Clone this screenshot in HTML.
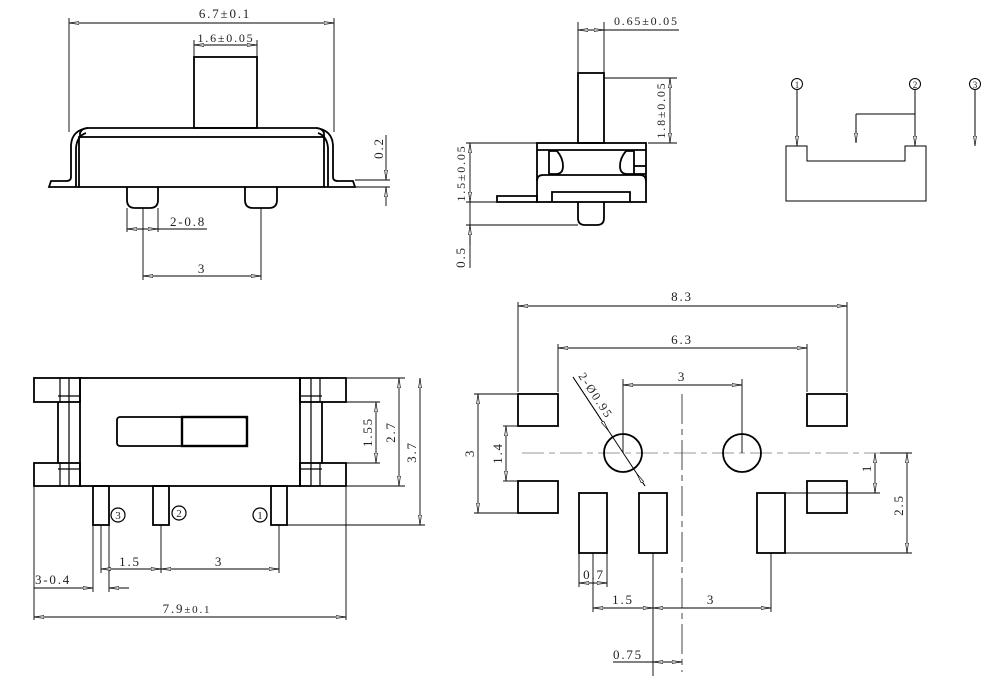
<!DOCTYPE html>
<html><head><meta charset="utf-8"><style>
html,body{margin:0;padding:0;background:#fff;}
svg{display:block;}
text{font-family:"Liberation Serif","Noto Serif CJK SC",serif;font-size:13px;fill:#222;letter-spacing:1.8px;}
</style></head><body>
<svg width="1000" height="679" viewBox="0 0 1000 679" xmlns="http://www.w3.org/2000/svg">
<defs>
<marker id="a" viewBox="0 0 10 4" refX="10" refY="2" markerWidth="10" markerHeight="4" markerUnits="userSpaceOnUse" orient="auto-start-reverse">
<path d="M0,0.6 L10,2 L0,3.4 z" fill="#fff" stroke="#000" stroke-width="0.7"/>
</marker>
</defs>

<!-- ============ TOP LEFT VIEW ============ -->
<g fill="none" stroke="#000" stroke-width="1.8">
<rect x="194" y="57" width="63" height="71"/>
<path d="M80,137 L80,133 Q82,128 88,128 L316,128 Q322,128 324,133 L324,137"/>
<rect x="79" y="137" width="245" height="50"/>
<path d="M88,128 Q72,130 71,145 L71,177 Q71,181 66,181 L51,181 L49,187 L79,187"/>
<path d="M86,133 Q77,136 76,148 L76,187"/>
<path d="M316,128 Q332,130 333,145 L333,177 Q333,181 338,181 L353,181 L355,187 L324,187"/>
<path d="M318,133 Q327,136 328,148 L328,187"/>
<path d="M127,187 L127,200 Q127,208 135,208 L150,208 Q158,208 158,200 L158,187"/>
<path d="M245,187 L245,200 Q245,208 253,208 L269,208 Q277,208 277,200 L277,187"/>
</g>
<g stroke="#000" stroke-width="0.9" fill="none">
<line x1="69" y1="18" x2="69" y2="132"/>
<line x1="334" y1="18" x2="334" y2="132"/>
<line x1="69" y1="23" x2="334" y2="23" marker-start="url(#a)" marker-end="url(#a)"/>
<line x1="194" y1="40" x2="194" y2="57"/>
<line x1="257" y1="40" x2="257" y2="57"/>
<line x1="194" y1="45" x2="257" y2="45" marker-start="url(#a)" marker-end="url(#a)"/>
<line x1="127" y1="208" x2="127" y2="232"/>
<line x1="158" y1="208" x2="158" y2="232"/>
<line x1="127" y1="229" x2="158" y2="229" marker-start="url(#a)" marker-end="url(#a)"/>
<line x1="158" y1="229" x2="207" y2="229"/>
<line x1="143" y1="208" x2="143" y2="280"/>
<line x1="261" y1="208" x2="261" y2="280"/>
<line x1="143" y1="276" x2="261" y2="276" marker-start="url(#a)" marker-end="url(#a)"/>
<line x1="355" y1="180" x2="390" y2="180"/>
<line x1="355" y1="187" x2="390" y2="187"/>
<line x1="386" y1="135" x2="386" y2="180" marker-end="url(#a)"/>
<line x1="386" y1="187" x2="386" y2="206" marker-start="url(#a)"/>
</g>
<text x="225" y="18" text-anchor="middle">6.7±0.1</text>
<text x="226" y="42" text-anchor="middle" style="font-size:12px">1.6±0.05</text>
<text x="188" y="226" text-anchor="middle">2-0.8</text>
<text x="202" y="273" text-anchor="middle">3</text>
<text transform="translate(383,148) rotate(-90)" text-anchor="middle">0.2</text>

<!-- ============ TOP MIDDLE VIEW ============ -->
<g fill="none" stroke="#000" stroke-width="1.8">
<rect x="578" y="73" width="26" height="70"/>
<rect x="537" y="143" width="109" height="59"/>
<line x1="537" y1="150" x2="646" y2="150"/>
<path d="M549,151 L557,151 Q563,158 563,166 Q563,174 556,174 L549,174 Z"/>
<path d="M634,151 L626,151 Q620,158 620,166 Q620,174 627,174 L634,174 Z"/>
<line x1="634" y1="166" x2="646" y2="166"/>
<line x1="634" y1="174" x2="646" y2="174"/>
<path d="M537,181 Q537,175 543,175 L640,175 Q646,175 646,181"/>
<path d="M552,202 L552,192 L630,192 L630,202"/>
<path d="M497,196 L537,196 L537,202 L497,202 Z"/>
<path d="M578,202 L578,218 Q578,225 585,225 L597,225 Q604,225 604,218 L604,202"/>
</g>
<g stroke="#000" stroke-width="0.9" fill="none">
<line x1="578" y1="22" x2="578" y2="73"/>
<line x1="604" y1="22" x2="604" y2="73"/>
<line x1="578" y1="30" x2="604" y2="30" marker-start="url(#a)" marker-end="url(#a)"/>
<line x1="604" y1="30" x2="679" y2="30"/>
<line x1="604" y1="78" x2="677" y2="78"/>
<line x1="648" y1="143" x2="677" y2="143"/>
<line x1="670" y1="78" x2="670" y2="143" marker-start="url(#a)" marker-end="url(#a)"/>
<line x1="466" y1="143" x2="537" y2="143"/>
<line x1="466" y1="202" x2="497" y2="202"/>
<line x1="470" y1="143" x2="470" y2="202" marker-start="url(#a)" marker-end="url(#a)"/>
<line x1="466" y1="225" x2="578" y2="225"/>
<line x1="470" y1="202" x2="470" y2="268"/>
<line x1="470" y1="225" x2="470" y2="245" marker-start="url(#a)"/>
</g>
<text x="614" y="25" style="font-size:12px">0.65±0.05</text>
<text transform="translate(665,110) rotate(-90)" text-anchor="middle" style="font-size:12px">1.8±0.05</text>
<text transform="translate(465,173) rotate(-90)" text-anchor="middle" style="font-size:12px">1.5±0.05</text>
<text transform="translate(465,257) rotate(-90)" text-anchor="middle">0.5</text>

<!-- ============ TOP RIGHT SCHEMATIC ============ -->
<g fill="none" stroke="#000" stroke-width="1">
<path d="M786,146 L807,146 L807,161 L905,161 L905,146 L926,146 L926,201 L786,201 Z"/>
<circle cx="797" cy="84" r="5.5"/>
<circle cx="915" cy="84" r="5.5"/>
<circle cx="975" cy="84" r="5.5"/>
<line x1="797" y1="90" x2="797" y2="146" marker-end="url(#a)"/>
<line x1="915" y1="90" x2="915" y2="146" marker-end="url(#a)"/>
<line x1="975" y1="90" x2="975" y2="146" marker-end="url(#a)"/>
<polyline points="915,114 856,114"/>
<line x1="856" y1="114" x2="856" y2="143" marker-end="url(#a)"/>
</g>
<text x="797" y="88" text-anchor="middle" style="font-size:9px;letter-spacing:0">1</text>
<text x="915" y="88" text-anchor="middle" style="font-size:9px;letter-spacing:0">2</text>
<text x="975" y="88" text-anchor="middle" style="font-size:9px;letter-spacing:0">3</text>

<!-- ============ BOTTOM LEFT VIEW ============ -->
<g fill="none" stroke="#000" stroke-width="1.8">
<rect x="80" y="378" width="220" height="108"/>
<rect x="34" y="378" width="46" height="24"/>
<rect x="34" y="463" width="46" height="23"/>
<rect x="300" y="378" width="46" height="24"/>
<rect x="300" y="463" width="46" height="23"/>
<line x1="58" y1="402" x2="58" y2="463"/>
<line x1="322" y1="402" x2="322" y2="463"/>
<rect x="117" y="417" width="130" height="29" rx="3"/>
<rect x="182" y="417" width="65" height="29" stroke-width="2.4"/>
<rect x="93" y="486" width="16" height="39"/>
<rect x="153" y="486" width="16" height="39"/>
<rect x="271" y="486" width="16" height="39"/>
</g>
<g fill="none" stroke="#000" stroke-width="1.2">
<line x1="60" y1="378" x2="60" y2="402"/><line x1="69" y1="378" x2="69" y2="486"/>
<line x1="60" y1="463" x2="60" y2="486"/>
<line x1="58" y1="396" x2="80" y2="396"/><line x1="58" y1="469" x2="80" y2="469"/>
<line x1="320" y1="378" x2="320" y2="402"/><line x1="311" y1="378" x2="311" y2="486"/>
<line x1="320" y1="463" x2="320" y2="486"/>
<line x1="300" y1="396" x2="322" y2="396"/><line x1="300" y1="469" x2="322" y2="469"/>
<circle cx="118" cy="515" r="7"/>
<circle cx="179" cy="513" r="7"/>
<circle cx="260" cy="515" r="7"/>
</g>
<text x="118" y="519" text-anchor="middle" style="font-size:11px;letter-spacing:0">3</text>
<text x="179" y="517" text-anchor="middle" style="font-size:11px;letter-spacing:0">2</text>
<text x="260" y="519" text-anchor="middle" style="font-size:11px;letter-spacing:0">1</text>
<g stroke="#000" stroke-width="0.9" fill="none">
<line x1="346" y1="378" x2="405" y2="378"/>
<line x1="322" y1="402" x2="380" y2="402"/>
<line x1="322" y1="463" x2="380" y2="463"/>
<line x1="346" y1="486" x2="405" y2="486"/>
<line x1="287" y1="525" x2="425" y2="525"/>
<line x1="376" y1="402" x2="376" y2="463" marker-start="url(#a)" marker-end="url(#a)"/>
<line x1="399" y1="378" x2="399" y2="486" marker-start="url(#a)" marker-end="url(#a)"/>
<line x1="420" y1="378" x2="420" y2="525" marker-start="url(#a)" marker-end="url(#a)"/>
<line x1="34" y1="486" x2="34" y2="620"/>
<line x1="346" y1="486" x2="346" y2="620"/>
<line x1="34" y1="617" x2="346" y2="617" marker-start="url(#a)" marker-end="url(#a)"/>
<line x1="93" y1="525" x2="93" y2="592"/>
<line x1="109" y1="525" x2="109" y2="592"/>
<line x1="101" y1="525" x2="101" y2="573"/>
<line x1="161" y1="525" x2="161" y2="573"/>
<line x1="279" y1="525" x2="279" y2="573"/>
<line x1="101" y1="569" x2="161" y2="569" marker-start="url(#a)" marker-end="url(#a)"/>
<line x1="161" y1="569" x2="279" y2="569" marker-start="url(#a)" marker-end="url(#a)"/>
<line x1="34" y1="588" x2="93" y2="588" marker-end="url(#a)"/>
<line x1="129" y1="588" x2="109" y2="588" marker-end="url(#a)"/>
</g>
<text transform="translate(372,432) rotate(-90)" text-anchor="middle">1.55</text>
<text transform="translate(395,432) rotate(-90)" text-anchor="middle">2.7</text>
<text transform="translate(416,452) rotate(-90)" text-anchor="middle">3.7</text>
<text x="130" y="566" text-anchor="middle">1.5</text>
<text x="219" y="566" text-anchor="middle">3</text>
<text x="35" y="584">3-0.4</text>
<text x="187" y="613" text-anchor="middle">7.9<tspan style="font-size:11px">±0.1</tspan></text>

<!-- ============ BOTTOM RIGHT FOOTPRINT ============ -->
<g stroke="#999" stroke-width="1" fill="none" stroke-dasharray="22,5,6,5">
<line x1="522" y1="453" x2="880" y2="453"/>
</g>
<g stroke="#333" stroke-width="0.9" fill="none" stroke-dasharray="30,5,6,5">
<line x1="682" y1="394" x2="682" y2="672"/>
</g>
<g fill="none" stroke="#000" stroke-width="1.8">
<rect x="518" y="394" width="40" height="32"/>
<rect x="807" y="394" width="40" height="32"/>
<rect x="518" y="481" width="40" height="32"/>
<rect x="807" y="481" width="40" height="32"/>
<circle cx="623" cy="453" r="19"/>
<circle cx="742" cy="453" r="19"/>
<rect x="579" y="493" width="28" height="60"/>
<rect x="639" y="493" width="28" height="60"/>
<rect x="757" y="493" width="28" height="60"/>
</g>
<g stroke="#000" stroke-width="0.9" fill="none">
<line x1="518" y1="302" x2="518" y2="392"/>
<line x1="847" y1="302" x2="847" y2="392"/>
<line x1="518" y1="306" x2="847" y2="306" marker-start="url(#a)" marker-end="url(#a)"/>
<line x1="558" y1="344" x2="558" y2="392"/>
<line x1="807" y1="344" x2="807" y2="392"/>
<line x1="558" y1="348" x2="807" y2="348" marker-start="url(#a)" marker-end="url(#a)"/>
<line x1="623" y1="379" x2="623" y2="453"/>
<line x1="742" y1="379" x2="742" y2="453"/>
<line x1="623" y1="385" x2="742" y2="385" marker-start="url(#a)" marker-end="url(#a)"/>
<line x1="573" y1="377" x2="645" y2="486"/>
<line x1="573" y1="377" x2="608" y2="430" marker-end="url(#a)"/>
<line x1="645" y1="486" x2="637" y2="474" marker-end="url(#a)"/>
<line x1="474" y1="394" x2="518" y2="394"/>
<line x1="474" y1="513" x2="518" y2="513"/>
<line x1="478" y1="394" x2="478" y2="513" marker-start="url(#a)" marker-end="url(#a)"/>
<line x1="503" y1="426" x2="518" y2="426"/>
<line x1="503" y1="481" x2="518" y2="481"/>
<line x1="506" y1="426" x2="506" y2="481" marker-start="url(#a)" marker-end="url(#a)"/>
<line x1="785" y1="493" x2="880" y2="493"/>
<line x1="880" y1="453" x2="912" y2="453"/>
<line x1="785" y1="553" x2="912" y2="553"/>
<line x1="875" y1="453" x2="875" y2="493" marker-start="url(#a)" marker-end="url(#a)"/>
<line x1="907" y1="453" x2="907" y2="553" marker-start="url(#a)" marker-end="url(#a)"/>
<line x1="579" y1="553" x2="579" y2="587"/>
<line x1="607" y1="553" x2="607" y2="587"/>
<line x1="579" y1="583" x2="607" y2="583" marker-start="url(#a)" marker-end="url(#a)"/>
<line x1="593" y1="553" x2="593" y2="612"/>
<line x1="653" y1="553" x2="653" y2="676"/>
<line x1="771" y1="553" x2="771" y2="612"/>
<line x1="593" y1="608" x2="653" y2="608" marker-start="url(#a)" marker-end="url(#a)"/>
<line x1="653" y1="608" x2="771" y2="608" marker-start="url(#a)" marker-end="url(#a)"/>
<line x1="613" y1="662" x2="653" y2="662"/>
<line x1="653" y1="662" x2="682" y2="662" marker-start="url(#a)" marker-end="url(#a)"/>
</g>
<text x="682" y="301" text-anchor="middle">8.3</text>
<text x="682" y="344" text-anchor="middle">6.3</text>
<text x="682" y="381" text-anchor="middle">3</text>
<text transform="translate(578,376) rotate(56.5)" style="font-size:12px">2-Ø0.95</text>
<text transform="translate(474,453) rotate(-90)" text-anchor="middle">3</text>
<text transform="translate(502,453) rotate(-90)" text-anchor="middle">1.4</text>
<text transform="translate(871,468) rotate(-90)" text-anchor="middle">1</text>
<text transform="translate(903,505) rotate(-90)" text-anchor="middle">2.5</text>
<text x="594" y="579" text-anchor="middle">0.7</text>
<text x="623" y="604" text-anchor="middle">1.5</text>
<text x="711" y="604" text-anchor="middle">3</text>
<text x="628" y="659" text-anchor="middle">0.75</text>
</svg>
</body></html>
